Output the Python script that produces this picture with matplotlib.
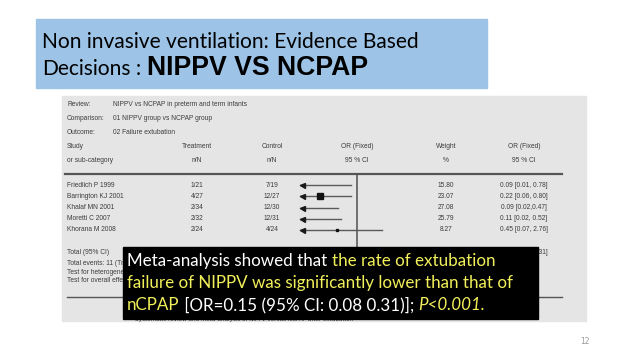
import matplotlib
matplotlib.use("Agg")
import matplotlib.pyplot as plt
from matplotlib.patches import Rectangle, Polygon
from matplotlib.transforms import blended_transform_factory

# ---- data ----
studies = ["Friedlich P 1999", "Barrington KJ 2001", "Khalaf MN 2001",
           "Moretti C 2007", "Khorana M 2008"]
treatment = ["1/21", "4/27", "2/34", "2/32", "2/24"]
control = ["7/19", "12/27", "12/30", "12/31", "4/24"]
weight = [15.80, 23.07, 27.08, 25.79, 8.27]
or_est = [0.09, 0.22, 0.09, 0.11, 0.45]
ci_low = [0.01, 0.06, 0.02, 0.02, 0.07]
ci_high = [0.78, 0.80, 0.47, 0.52, 2.76]
or_labels = ["0.09 [0.01, 0.78]", "0.22 [0.06, 0.80]", "0.09 [0.02,0.47]",
             "0.11 [0.02, 0.52]", "0.45 [0.07, 2.76]"]
total_or, total_low, total_high = 0.15, 0.08, 0.31
total_label = "0.15 [0.08, 0.31]"

TXT = "#3c3c3c"
PANEL = "#e5e5e5"

fig = plt.figure(figsize=(6.38, 3.59), dpi=100)
ax = fig.add_axes([0, 0, 1, 1])
ax.set_xlim(0, 638)
ax.set_ylim(359, 0)
ax.axis("off")

# title box
ax.add_patch(Rectangle((36, 19), 451, 69, color="#9dc3e6", zorder=1))
# grey panel with the forest plot screenshot
ax.add_patch(Rectangle((62, 96), 524, 225, color=PANEL, zorder=1))

fig.canvas.draw()
rend = fig.canvas.get_renderer()


def twidth(t):
    return t.get_window_extent(rend).width


def fit(t, target):
    # scale a text's size so that it spans the target width in pixels
    t.set_fontsize(t.get_fontsize() * target / twidth(t))
    return t.get_fontsize()


# ---- title ----
t1 = ax.text(42, 48, "Non invasive ventilation: Evidence Based", family="Lato",
             fontsize=18, color="black", va="baseline", zorder=3)
tsize = fit(t1, 377)
ax.text(42, 75, "Decisions", family="Lato", fontsize=tsize,
        color="black", va="baseline", zorder=3)
ax.text(136, 75, ":", family="Lato", fontsize=tsize,
        color="black", va="baseline", zorder=3)
t2 = ax.text(147, 75, "NIPPV VS NCPAP", family="Liberation Sans", weight="bold",
             fontsize=18, color="black", va="baseline", zorder=3)
fit(t2, 221)

# ---- forest plot (log scale axes) ----
fax = fig.add_axes([300 / 638, 1 - 297 / 359, 114 / 638, 123 / 359])
fax.set_xscale("log")
fax.set_xlim(0.1, 10)
fax.set_ylim(10, -1)
fax.axis("off")
fax.patch.set_alpha(0)
fax.axvline(1, color="#505050", lw=1.1)

for i in range(len(studies)):
    lo = max(ci_low[i], 0.1)
    fax.plot([lo, ci_high[i]], [i, i], color="#5a5a5a", lw=1.0, clip_on=False)
    if ci_low[i] < 0.1:
        fax.plot([0.11], [i], marker="<", ms=3.6, color="#1a1a1a", clip_on=False)
    if or_est[i] >= 0.12:
        fax.plot([or_est[i]], [i], marker="s", ms=weight[i] ** 0.5 * 0.75,
                 color="#111111", lw=0)
total_row = 6
fax.add_patch(Polygon([(total_low, total_row), (total_or, total_row - 0.35),
                       (total_high, total_row), (total_or, total_row + 0.35)],
                      closed=True, color="#111111"))

# table text: x in slide pixels, y in forest rows
tr = blended_transform_factory(ax.transData, fax.transData)
fs = 4.8
kw = dict(fontsize=fs, color=TXT, family="Liberation Sans", zorder=3)

ax.text(67, 105, "Review:", va="center", **kw)
ax.text(113, 105, "NIPPV vs NCPAP in preterm and term infants", va="center", **kw)
ax.text(67, 119, "Comparison:", va="center", **kw)
ax.text(113, 119, "01 NIPPV group vs NCPAP group", va="center", **kw)
ax.text(67, 133, "Outcome:", va="center", **kw)
ax.text(113, 133, "02 Failure extubation", va="center", **kw)

ax.text(67, 147, "Study", va="center", **kw)
ax.text(67, 161, "or sub-category", va="center", **kw)
for xc, a, b in [(197, "Treatment", "n/N"), (272, "Control", "n/N"),
                 (357, "OR (Fixed)", "95 % CI"), (446, "Weight", "%"),
                 (524, "OR (Fixed)", "95 % CI")]:
    ax.text(xc, 147, a, ha="center", va="center", **kw)
    ax.text(xc, 161, b, ha="center", va="center", **kw)

ax.plot([65, 562], [174, 174], color="#555555", lw=1.6, zorder=2)
ax.plot([67, 562], [297, 297], color="#555555", lw=1.0, zorder=2)

for i, s in enumerate(studies):
    ax.text(67, i, s, transform=tr, va="center", **kw)
    ax.text(197, i, treatment[i], transform=tr, ha="center", va="center", **kw)
    ax.text(272, i, control[i], transform=tr, ha="center", va="center", **kw)
    ax.text(446, i, "%.2f" % weight[i], transform=tr, ha="center", va="center", **kw)
    ax.text(524, i, or_labels[i], transform=tr, ha="center", va="center", **kw)

n_t = sum(int(v.split("/")[0]) for v in treatment)
n_c = sum(int(v.split("/")[0]) for v in control)

# the call-out box hides most of the summary rows; clip them to what shows
left_clip = Rectangle((62, 240), 61, 60, transform=ax.transData)
right_clip = Rectangle((538, 240), 48, 60, transform=ax.transData)
summary_left = [
    (total_row, "Total (95% CI)"),
    (7.0, "Total events: %d (Treatment), %d (Control)" % (n_t, n_c)),
    (7.8, "Test for heterogeneity: Chi\u00b2 = 2.10, df = 4 (P = 0.72)"),
    (8.5, "Test for overall effect: Z = 5.33 (P < 0.001)"),
]
for yy, s in summary_left:
    t = ax.text(67, yy, s, transform=tr, va="center", **kw)
    t.set_clip_path(left_clip)
t = ax.text(524, total_row, total_label, transform=tr, ha="center", va="center", **kw)
t.set_clip_path(right_clip)

ax.text(135, 320, "Systematic review and meta-analysis of NIPPV versus NCPAP after extubation",
        fontsize=4.1, color="#333333", va="center", zorder=3)

# ---- black call-out box, drawn on top of the forest axes ----
top = fig.add_axes([0, 0, 1, 1])
top.set_xlim(0, 638)
top.set_ylim(359, 0)
top.axis("off")
top.patch.set_alpha(0)
top.add_patch(Rectangle((123, 247), 415, 72, color="black", zorder=5))
YEL = "#f2f05a"
lines = [
    [("Meta-analysis showed that ", "white", "normal"),
     ("the rate of extubation", YEL, "normal")],
    [("failure of NIPPV was significantly lower than that of", YEL, "normal")],
    [("nCPAP", YEL, "normal"),
     (" [OR=0.15 (95% CI: 0.08 0.31)]; ", "white", "normal"),
     ("P<0.001.", YEL, "italic")],
]
probe = top.text(0, 0, lines[1][0][0], family="Lato", fontsize=14)
bsize = fit(probe, 387)
bar = top.text(0, 0, "|", family="Lato", fontsize=bsize)
bar_w = twidth(bar)
probe.remove()
bar.remove()
for k, parts in enumerate(lines):
    x = 127
    y = 266 + 22 * k
    for s, c, st in parts:
        top.text(x, y, s, family="Lato", fontsize=bsize, color=c, style=st,
                 va="baseline", zorder=6)
        m = top.text(0, 0, s + "|", family="Lato", fontsize=bsize, style=st)
        x += twidth(m) - bar_w
        m.remove()

top.text(585, 342, "12", fontsize=5.5, color="#9a9a9a", ha="center", va="center")

fig.savefig("out.png", dpi=100)
